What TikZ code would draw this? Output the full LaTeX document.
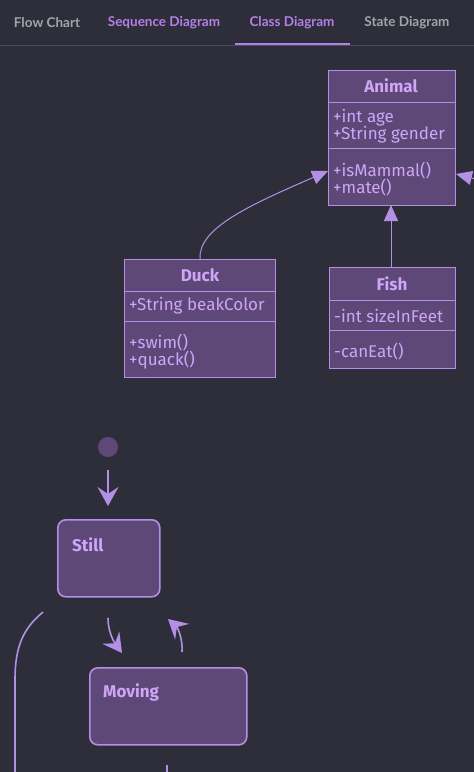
\documentclass[tikz,border=0pt]{standalone}
\usepackage{fontspec}
\setmainfont{Fira Sans}
\newfontfamily\tabfont{Lato}
\usetikzlibrary{arrows.meta}
\definecolor{bgc}{HTML}{2D2E3A}
\definecolor{boxfill}{HTML}{5E4878}
\definecolor{boxline}{HTML}{B48FE6}
\definecolor{txtc}{HTML}{CDA6F7}
\definecolor{tabgray}{HTML}{A3A3A8}
\definecolor{tabact}{HTML}{B57FE8}
\definecolor{divc}{HTML}{4A4B58}
\tikzset{
  x=1pt,y=-1pt,
  classbox/.style={draw=boxline, fill=boxfill, line width=1pt, rectangle, inner sep=0pt},
  statebox/.style={draw=boxline, fill=boxfill, line width=1.6pt, rectangle, rounded corners=8pt, inner sep=0pt},
  ctitle/.style={text=txtc, font=\fontsize{17}{19}\selectfont\bfseries, inner sep=0pt},
  cmember/.style={text=txtc, font=\fontsize{17}{19}\selectfont, inner sep=0pt, anchor=west},
  stitle/.style={text=txtc, font=\fontsize{17}{19}\selectfont\bfseries, inner sep=0pt, anchor=west},
  tabtxt/.style={font=\tabfont\fontsize{13.5}{15}\selectfont\bfseries, inner sep=0pt},
  conn/.style={draw=boxline, line width=1pt},
  inherit/.style={conn, -{Triangle[length=16pt,width=14pt,fill=boxline]}},
  sconn/.style={draw=boxline, line width=1.6pt},
  sarrow/.style={sconn, -{Stealth[length=19pt,width=21pt,inset=7pt]}},
}
\begin{document}
\begin{tikzpicture}
\fill[bgc] (0,0) rectangle (474,772);
\useasboundingbox (0,0) rectangle (474,772);
% tabs
\node[tabtxt, text=tabgray] (t1) at (47,23) {Flow Chart};
\node[tabtxt, text=tabact] (t2) at (164,23) {Sequence Diagram};
\node[tabtxt, text=tabact] (t3) at (292,23) {Class Diagram};
\node[tabtxt, text=tabgray] (t4) at (407,23) {State Diagram};
\draw[divc, line width=1pt] (0,45) -- (474,45);
\draw[tabact, line width=2.5pt] (235,44) -- (350,44);
% Animal
\node[classbox, minimum width=127pt, minimum height=135pt, anchor=north west] (animal) at (328,70) {};
\draw[conn] (328,102) -- (455,102);
\draw[conn] (328,148) -- (455,148);
\node[ctitle] (animalT) at (391,86) {Animal};
\node[cmember] (a1) at (333,118) {+int age};
\node[cmember] (a2) at (333,135) {+String gender};
\node[cmember] (a3) at (333,171) {+isMammal()};
\node[cmember] (a4) at (333,188) {+mate()};
% Duck
\node[classbox, minimum width=151pt, minimum height=118pt, anchor=north west] (duck) at (124,259) {};
\draw[conn] (124,291) -- (275,291);
\draw[conn] (124,321) -- (275,321);
\node[ctitle] (duckT) at (200,275) {Duck};
\node[cmember] (d1) at (129,306) {+String beakColor};
\node[cmember] (d2) at (129,343) {+swim()};
\node[cmember] (d3) at (129,360) {+quack()};
% Fish
\node[classbox, minimum width=126pt, minimum height=101pt, anchor=north west] (fish) at (329,267) {};
\draw[conn] (329,300) -- (455,300);
\draw[conn] (329,330) -- (455,330);
\node[ctitle] (fishT) at (392,284) {Fish};
\node[cmember] (f1) at (334,316) {-int sizeInFeet};
\node[cmember] (f2) at (334,352) {-canEat()};
% inheritance
\coordinate (aw) at (328,171);
\coordinate (ab) at (391,205);
\coordinate (ar) at (456,174);
\coordinate (offr) at (480,180);
\draw[inherit] (duck.north) .. controls (198,228) and (250,205) .. (aw);
\draw[inherit] (fish.north -| ab) -- (ab);
\draw[inherit] (offr) -- (ar);
% state diagram
\node[circle, fill=boxfill, minimum size=20pt, inner sep=0pt] (start) at (108,447) {};
\node[statebox, minimum width=102pt, minimum height=77pt, anchor=north west] (still) at (57,519) {};
\node[stitle] (stillT) at (72,545) {Still};
\node[statebox, minimum width=157pt, minimum height=77pt, anchor=north west] (moving) at (89,667) {};
\node[stitle] (movingT) at (103,692) {Moving};
\coordinate (s1) at (108,470);
\coordinate (s2) at (108,506);
\draw[sarrow] (s1) -- (s2);
\coordinate (m1) at (108,618);
\coordinate (m2) at (122,653);
\draw[sarrow] (m1) .. controls (108,632) and (114,642) .. (m2);
\coordinate (m3) at (182,652);
\coordinate (m4) at (168,619);
\draw[sarrow] (m3) .. controls (183,640) and (178,628) .. (m4);
\coordinate (l1) at (43,612);
\coordinate (l2) at (15,772);
\draw[sconn] (l1) .. controls (24,628) and (15,645) .. (15,680) -- (l2);
\coordinate (mb) at (167,765);
\draw[sconn] (mb) -- (167,772);
\end{tikzpicture}
\end{document}
